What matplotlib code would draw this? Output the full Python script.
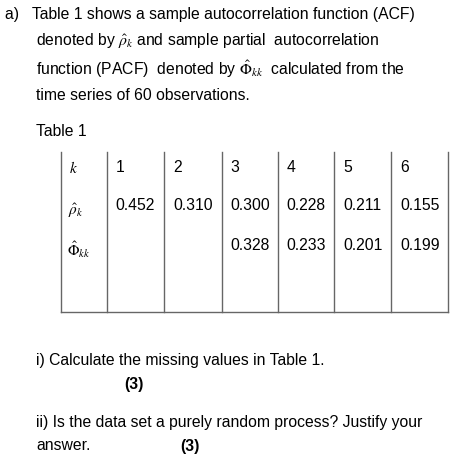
import matplotlib
matplotlib.use("Agg")
import matplotlib.pyplot as plt

plt.rcParams['font.family'] = ['Liberation Sans', 'DejaVu Sans']
plt.rcParams['mathtext.fontset'] = 'stix'

ks = ["1", "2", "3", "4", "5", "6"]
acf = ["0.452", "0.310", "0.300", "0.228", "0.211", "0.155"]
pacf = ["", "", "0.328", "0.233", "0.201", "0.199"]

W, H = 474, 457
fig = plt.figure(figsize=(W/100, H/100), dpi=100)
ax = fig.add_axes([0, 0, 1, 1])
ax.set_xlim(0, W); ax.set_ylim(H, 0); ax.axis('off')

fs = 11.3
def t(x, y, s, **kw):
    ax.text(x, y, s, fontsize=kw.pop('fontsize', fs), va='center', ha=kw.pop('ha', 'left'), **kw)

t(5, 14, "a)   Table 1 shows a sample autocorrelation function (ACF)")
t(36, 40, r"denoted by $\hat{\rho}_k$ and sample partial  autocorrelation")
t(36, 69, r"function (PACF)  denoted by $\hat{\Phi}_{kk}$  calculated from the")
t(36, 95, "time series of 60 observations.")
t(36, 131, "Table 1")

xs = [60.7, 106.7, 164.3, 221.7, 277.7, 334.3, 391, 448]
top, bot = 152, 312
for x in xs:
    ax.plot([x, x], [top, bot], color='#666666', lw=1)
ax.plot([xs[0], xs[-1]], [bot, bot], color='#666666', lw=1)

t(69, 168, r"$k$", fontsize=11)
t(68, 211, r"$\hat{\rho}_k$", fontsize=11)
t(67, 250, r"$\hat{\Phi}_{kk}$", fontsize=11)
for i in range(6):
    x0 = xs[i+1] + 9
    t(x0, 168, ks[i])
    t(x0, 206, acf[i])
    t(x0, 246, pacf[i])

t(36, 360, "i) Calculate the missing values in Table 1.")
t(124, 384, "(3)", fontweight='bold')
t(36, 422, "ii) Is the data set a purely random process? Justify your")
t(36, 446, "answer.")
t(180, 446, "(3)", fontweight='bold')

fig.savefig("out.png", dpi=100, facecolor='white')
